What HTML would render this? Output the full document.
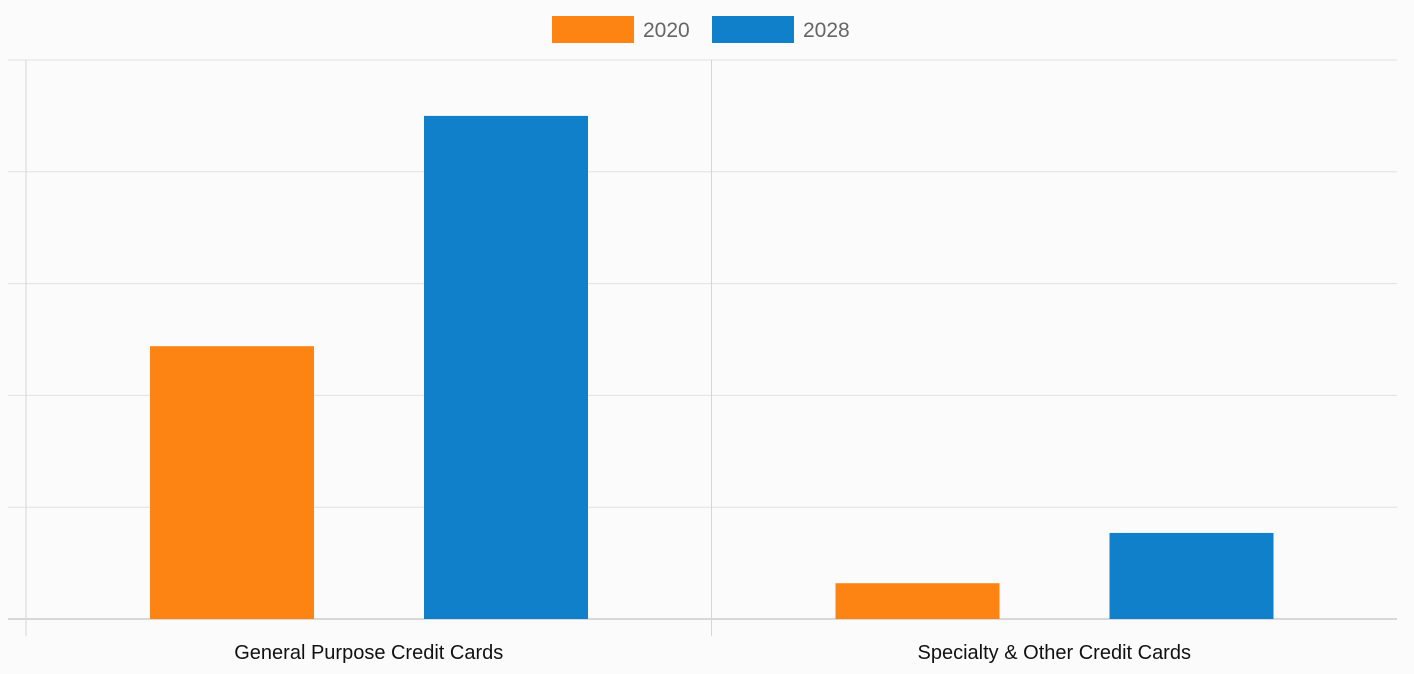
<!DOCTYPE html>
<html><head><meta charset="utf-8"><style>
html,body{margin:0;padding:0;background:#fbfbfb;}
svg{display:block;font-family:"Liberation Sans",Arial,sans-serif;}
</style></head><body>
<svg id="chart" width="1414" height="674"></svg>
<script>
const categories = ["General Purpose Credit Cards", "Specialty & Other Credit Cards"];
const seriesNames = ["2020", "2028"];
const values2020 = [2.44, 0.32];
const values2028 = [4.50, 0.77];
const yTicks = [0, 1, 2, 3, 4, 5];

const NS = "http://www.w3.org/2000/svg";
const svg = document.getElementById("chart");
const L = 26, R = 1397, T = 60, B = 619, yMax = 5;
const colors = ["#fd8312", "#1080cb"];
function y(v){ return B - (v / yMax) * (B - T); }
const bandW = (R - L) / categories.length;
function mk(tag, attrs){ const e = document.createElementNS(NS, tag); for (const k in attrs) e.setAttribute(k, attrs[k]); svg.appendChild(e); return e; }

yTicks.forEach((t) => {
  const g = mk("line", {x1: 8, x2: R, y1: y(t), y2: y(t), stroke: t === 0 ? "#b5b5b5" : "#e2e2e2", "stroke-width": 1});
  
  
});
for (let i = 0; i < categories.length; i++) {
  const x = L + i * bandW;
  const v = mk("line", {x1: x, x2: x, y1: T, y2: B + 17, stroke: "#d6d6d6", "stroke-width": 1});
  
  
}
const series = [values2020, values2028];
categories.forEach((c, i) => {
  const bx = L + i * bandW;
  series.forEach((vals, s) => {
    const x = bx + 124 + s * 274;
    const r = mk("rect", {x: x, y: y(vals[i]), width: 164, height: B - y(vals[i]), fill: colors[s]});
    
    
  });
  const t = mk("text", {x: bx + bandW / 2, y: 659, "text-anchor": "middle", "font-size": 20, fill: "#111"});
  t.textContent = c;
  
  
});
// legend
const legX = [552, 712];
seriesNames.forEach((n, s) => {
  const r = mk("rect", {x: legX[s], y: 16, width: 82, height: 27, fill: colors[s]});
  
  
  const t = mk("text", {x: legX[s] + 91, y: 37, "font-size": 21, fill: "#666"});
  t.textContent = n;
  
  
});
</script>
</body></html>
